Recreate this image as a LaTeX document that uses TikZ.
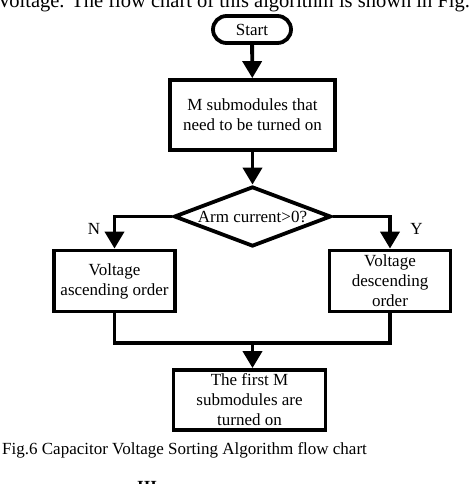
\documentclass[tikz,border=0pt]{standalone}
\usepackage{fontspec}
\setmainfont{Liberation Serif}
\usetikzlibrary{arrows.meta,shapes.geometric,shapes.misc}
\begin{document}
\begin{tikzpicture}[x=1pt,y=-1pt,
  every node/.style={font=\fontsize{17}{20}\selectfont, inner sep=0pt},
  frame/.style={draw, line width=3.8pt, align=center, line join=miter},
  term/.style={frame, rounded rectangle, minimum width=78pt, minimum height=27pt},
  procbox/.style={frame, rectangle},
  decision/.style={frame, diamond, aspect=2.6, minimum width=157pt, minimum height=60pt},
  flow/.style={line width=3.8pt, -{Triangle[width=19pt,length=17pt]}},
  link/.style={line width=3.8pt, line join=miter},
  lbl/.style={font=\fontsize{17}{20}\selectfont}
]
\useasboundingbox (0,0) rectangle (474,484);
\clip (0,0) rectangle (474,484);

% running text above (clipped)
\node[anchor=base west, font=\fontsize{20.5}{24}\selectfont] (toptext) at (-3,7.5)
  {Voltage. The flow chart of this algorithm is shown in Fig.};

\node[term] (start) at (252,29.5) {Start};
\node[procbox, minimum width=165pt, minimum height=70pt] (box1) at (252.5,115)
  {M submodules that\\need to be turned on};
\node[decision] (dia) at (252.5,216.5) {Arm current>0?};
\node[procbox, minimum width=121pt, minimum height=61pt] (left) at (114.5,281)
  {Voltage\\ascending order};
\node[procbox, minimum width=121pt, minimum height=61pt] (right) at (390,281)
  {Voltage\\descending\\order};
\node[procbox, minimum width=152pt, minimum height=60pt] (last) at (249.5,400)
  {The first M\\submodules are\\turned on};

\coordinate (merge) at (252.5,343);

\draw[flow] (start) -- (box1);
\draw[flow] (box1.south -| dia.north) -- (dia.north);
\draw[flow] (dia.west) -| (left.north);
\draw[flow] (dia.east) -| (right.north);
\draw[link] (left.south) |- (merge) -| (right.south);
\draw[flow] (merge) -- (merge |- last.north);

\node[lbl] (nlab) at (94,228.5) {N};
\node[lbl] (ylab) at (416.5,228.5) {Y};

\node[anchor=base west] (caption) at (2,454)
  {Fig.6 Capacitor Voltage Sorting Algorithm flow chart};

\node[anchor=north west, font=\fontsize{17}{20}\selectfont\bfseries] (heading) at (137,481) {III};
\end{tikzpicture}
\end{document}
